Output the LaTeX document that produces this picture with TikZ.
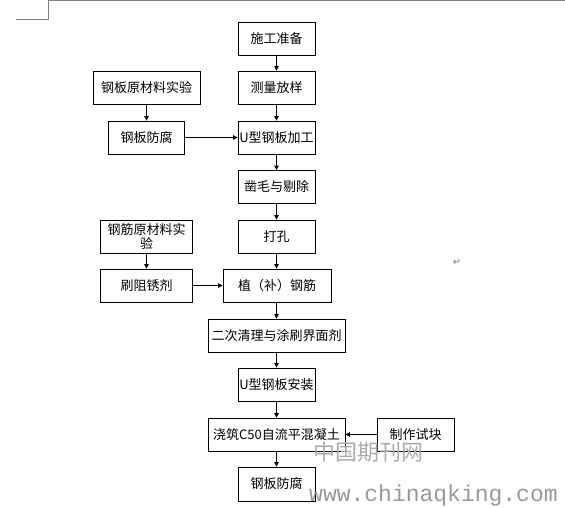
\documentclass[tikz,border=0pt]{standalone}
\usepackage{fontspec}
\setmainfont{Noto Sans CJK SC}
\newfontfamily\wzmono{Liberation Mono}
\newfontfamily\wzsym{DejaVu Sans}
\usetikzlibrary{arrows.meta}

\begin{document}
\begin{tikzpicture}[
  x=1pt, y=-1pt,
  font=\fontsize{13pt}{16pt}\selectfont,
  blk/.style={draw, line width=0.8pt, minimum width=77pt, minimum height=33pt,
              inner sep=0pt, align=center},
  pf/.style={-{Triangle[length=4.5pt,width=4.5pt]}, line width=0.8pt}
]
\useasboundingbox (0,0) rectangle (565,507);

% Seitenrand
\draw[gray, line width=0.8pt] (16,19) -- (48,19) -- (48,0.5) -- (565,0.5);

% Hauptkette
\node[blk] (vor)  at (276.5,38.5)  {施工准备};
\node[blk] (mess) at (276.5,87.5)  {测量放样};
\node[blk] (uf)   at (276.5,137.5) {U型钢板加工};
\node[blk] (zao)  at (276.5,187)   {凿毛与剔除};
\node[blk] (dk)   at (276.5,236.5) {打孔};
\node[blk, minimum width=108pt] (zj) at (277,285.5) {植（补）钢筋};
\node[blk, minimum width=137pt] (qt) at (276.5,335.5) {二次清理与涂刷界面剂};
\node[blk] (ua)   at (276.5,384.5) {U型钢板安装};
\node[blk, minimum width=137pt] (jz) at (276.5,434.5) {浇筑C50自流平混凝土};
\node[blk, minimum height=34pt] (fs2) at (276.5,484) {钢板防腐};

\draw[pf] (vor.south) -- (mess.north);
\draw[pf] (mess.south) -- (uf.north);
\draw[pf] (uf.south) -- (zao.north);
\draw[pf] (zao.south) -- (dk.north);
\draw[pf] (dk.south) -- (dk.south |- zj.north);
\draw[pf] (zj.south -| dk.south) -- (qt.north);
\draw[pf] (qt.south) -- (ua.north);
\draw[pf] (ua.south) -- (jz.north);
\draw[pf] (jz.south) -- (fs2.north);

% Stahlblech
\node[blk, minimum width=107pt] (roh1) at (146.5,87.5)  {钢板原材料实验};
\node[blk, minimum width=76pt]  (fs1)  at (146.5,137.5) {钢板防腐};
\draw[pf] (roh1.south) -- (fs1.north);
\draw[pf] (fs1.east) -- (uf.west);

% Bewehrung
\node[blk, minimum width=92pt] (roh2) at (146.5,236.5) {钢筋原材料实\\[-2pt]验};
\node[blk, minimum width=92pt] (zs)   at (146.5,285.5) {刷阻锈剂};
\draw[pf] (roh2.south) -- (zs.north);
\draw[pf] (zs.east) -- (zj.west);

% Probekoerper
\node[blk] (sk) at (415.5,434.5) {制作试块};
\draw[pf] (sk.west) -- (jz.east);

% Absatzmarke und Wasserzeichen
\node[gray, font=\wzsym\fontsize{10pt}{10pt}\selectfont] (pm) at (457,262) {↵};
\node[gray!65, font=\fontsize{22pt}{22pt}\selectfont, anchor=north west, inner sep=0pt] (wz1) at (313,442) {中国期刊网};
\node[gray!80, font=\wzmono\fontsize{23pt}{23pt}\selectfont, anchor=west, inner sep=0pt] (wz2) at (309,496) {www.chinaqking.com};

\end{tikzpicture}
\end{document}
